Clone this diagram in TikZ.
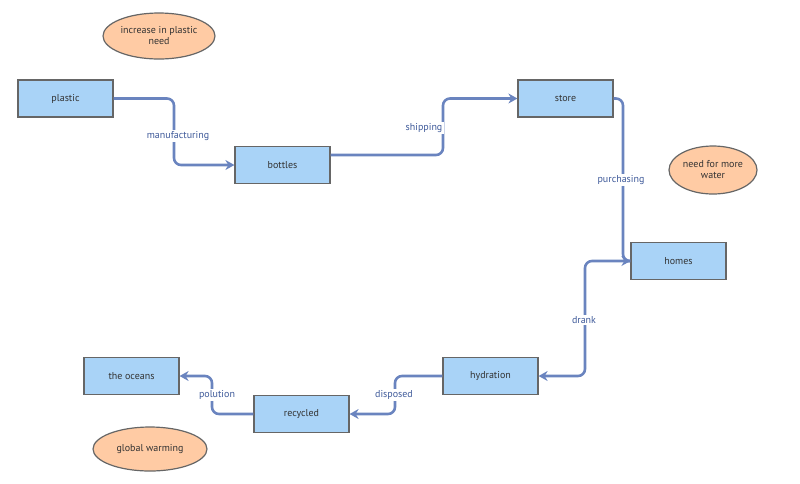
\documentclass[tikz,border=0pt]{standalone}
\usepackage{fontspec}
\setmainfont{PT Sans}
\usetikzlibrary{shapes.geometric,arrows.meta}
\definecolor{boxf}{HTML}{A9D3F7}
\definecolor{ellf}{HTML}{FFCBA4}
\definecolor{edge}{HTML}{666666}
\definecolor{ln}{HTML}{6A84BF}
\definecolor{lbl}{HTML}{3F5A9A}
\tikzset{
 box/.style={draw=edge,fill=boxf,line width=1.2pt,minimum width=95pt,minimum height=37pt,inner sep=0pt,font=\fontsize{10}{12}\selectfont,text=black!80},
 ell/.style={ellipse,draw=edge,fill=ellf,line width=1.2pt,inner sep=0pt,align=center,font=\fontsize{10}{11}\selectfont,text=black!80},
 con/.style={draw=ln,line width=2.6pt,rounded corners=7pt,-{Stealth[length=9pt,width=10pt]}},
 lab/.style={fill=white,inner sep=1.5pt,text=lbl,font=\fontsize{10}{12}\selectfont}
}
\begin{document}
\begin{tikzpicture}[x=1pt,y=-1pt]
\useasboundingbox (0,0) rectangle (800,483);
\node[box] (plastic) at (65.5,98.5) {plastic};
\node[box] (bottles) at (282.5,165) {bottles};
\node[box] (store) at (565.5,98.5) {store};
\node[box] (homes) at (678.5,261) {homes};
\node[box] (hydration) at (490.5,376) {hydration};
\node[box] (recycled) at (301.5,414) {recycled};
\node[box] (oceans) at (131.5,376) {the oceans};
\node[ell,minimum width=112pt,minimum height=46pt] (e1) at (159,36) {increase in plastic\\need};
\node[ell,minimum width=88pt,minimum height=48pt] (e2) at (713,170) {need for more\\water};
\node[ell,minimum width=114pt,minimum height=44pt] (e3) at (150,449) {global warming};
\coordinate (a1) at (174,98.5); \coordinate (a2) at (174,165);
\coordinate (b1) at (443,155); \coordinate (b2) at (443,98.5);
\coordinate (c1) at (623,98.5); \coordinate (c2) at (623,261);
\coordinate (d1) at (585,261); \coordinate (d2) at (585,376);
\coordinate (f1) at (395,376); \coordinate (f2) at (395,414);
\coordinate (g1) at (212,414); \coordinate (g2) at (212,376);
\draw[con] (plastic.east) -- (a1) -- (a2) -- (bottles.west);
\draw[con] (bottles.east|-b1) -- (b1) -- (b2) -- (store.west);
\draw[con] (store.east) -- (c1) -- (c2) -- (homes.west);
\draw[con] (homes.west) -- (d1) -- (d2) -- (hydration.east);
\draw[con] (hydration.west) -- (f1) -- (f2) -- (recycled.east);
\draw[con] (recycled.west) -- (g1) -- (g2) -- (oceans.east);
\node[lab] at (178,136) {manufacturing};
\node[lab] at (424,128) {shipping};
\node[lab] at (621,180) {purchasing};
\node[lab] at (584,320) {drank};
\node[lab] at (394,395) {disposed};
\node[lab] at (217,395) {polution};
\end{tikzpicture}
\end{document}
